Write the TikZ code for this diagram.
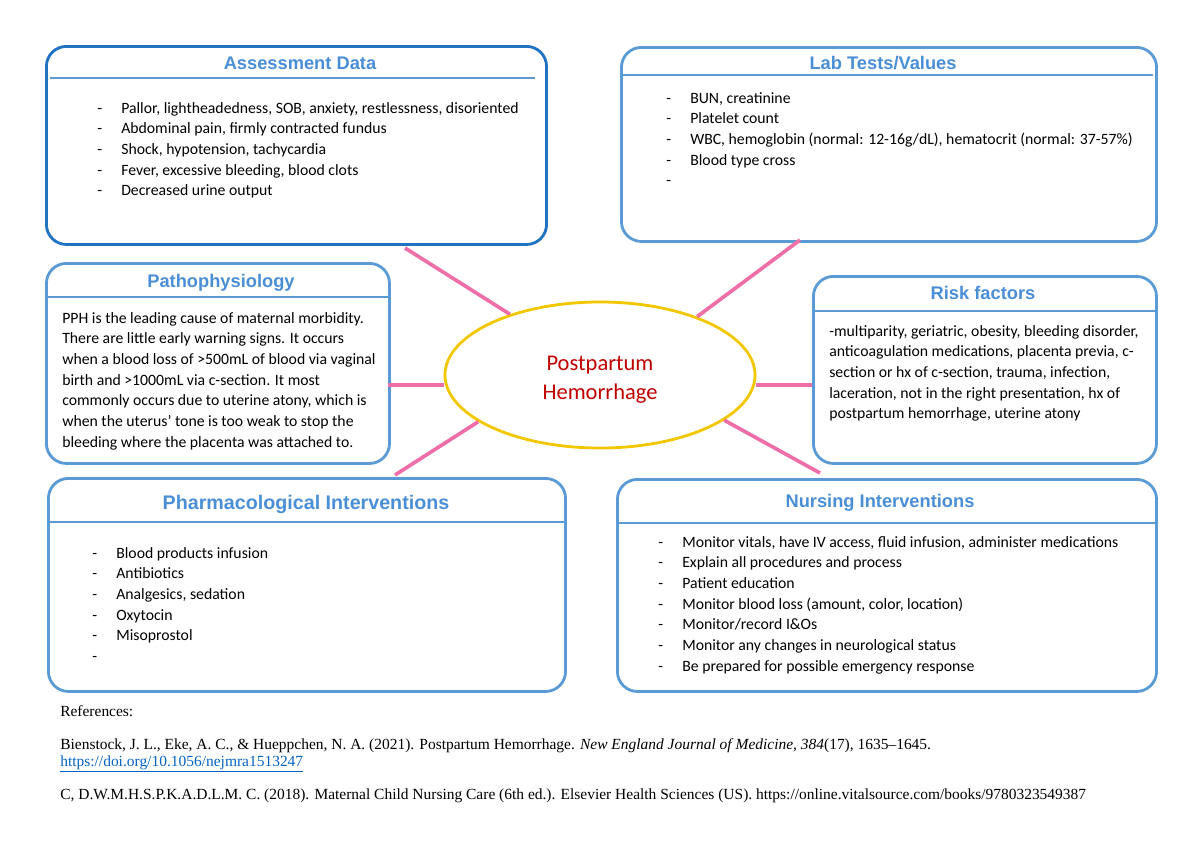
\documentclass[tikz,border=0pt]{standalone}
\usepackage{fontspec}
\setmainfont{Carlito}
\newfontfamily\headfont{Liberation Sans}
\newfontfamily\reffont{Liberation Serif}
\usepackage{xcolor}
\usetikzlibrary{shapes.geometric, positioning, calc}

\definecolor{boxblue}{HTML}{5B9BD5}
\definecolor{deepblue}{HTML}{1F73C2}
\definecolor{titleblue}{HTML}{4A8FD6}
\definecolor{spokepink}{HTML}{EE6FA8}
\definecolor{hubyellow}{HTML}{F2C700}
\definecolor{hubred}{HTML}{C00000}
\definecolor{linkblue}{HTML}{0563C1}

\newcommand{\itm}{\makebox[0.6cm][l]{-}}

\begin{document}
\begin{tikzpicture}[
  x=0.025cm, y=-0.025cm,
  panel/.style={draw=boxblue, line width=2pt, rounded corners=0.5cm, anchor=north west, inner sep=0pt},
  title/.style={font=\headfont\bfseries\fontsize{13}{15}\selectfont, text=titleblue, text height=1.6ex, text depth=0.3ex, inner sep=0pt},
  rule/.style={draw=boxblue, line width=1.4pt},
  body/.style={font=\fontsize{11.2}{14.7}\selectfont, align=left, anchor=north west, inner sep=0pt},
  spoke/.style={draw=spokepink, line width=2.6pt},
  hub/.style={ellipse, draw=hubyellow, line width=2pt, minimum width=7.75cm, minimum height=3.65cm, inner sep=0pt, align=center, text=hubred, font=\fontsize{16}{21}\selectfont},
  refs/.style={font=\reffont\fontsize{11}{13}\selectfont, anchor=base west, inner sep=0pt}
]
\useasboundingbox (0,0) rectangle (1200,849);

% panels
\node[panel, draw=deepblue, minimum width=12.5cm, minimum height=4.95cm] (assess) at (45,45) {};
\node[panel, minimum width=13.375cm, minimum height=4.85cm] (labs) at (620,46) {};
\node[panel, minimum width=8.575cm, minimum height=5cm] (patho) at (45,262) {};
\node[panel, minimum width=8.575cm, minimum height=4.675cm] (risk) at (812,275) {};
\node[panel, minimum width=12.925cm, minimum height=5.325cm] (pharm) at (47,477) {};
\node[panel, minimum width=13.475cm, minimum height=5.3cm] (nursing) at (616,478) {};

% titles and header rules
\node[title] (assessT) at (300,65) {Assessment Data};
\node[title] (labsT) at (883,65) {Lab Tests/Values};
\node[title] (pathoT) at (221,283) {Pathophysiology};
\node[title] (riskT) at (983,295) {Risk factors};
\node[title, font=\headfont\bfseries\fontsize{14}{16}\selectfont] (pharmT) at (306,505) {Pharmacological Interventions};
\node[title] (nursingT) at (880,503) {Nursing Interventions};
\draw[rule] (50,78) -- (535,78);
\draw[rule] (622,75) -- (1153,75);
\draw[rule] (45,297) -- (388,297);
\draw[rule] (812,311) -- (1155,311);
\draw[rule] (47,522) -- (564,522);
\draw[rule] (616,523) -- (1155,523);

% contents
\node[body] (assessB) at (97,102) {\itm Pallor, lightheadedness, SOB, anxiety, restlessness, disoriented\\
  \itm Abdominal pain, firmly contracted fundus\\
  \itm Shock, hypotension, tachycardia\\
  \itm Fever, excessive bleeding, blood clots\\
  \itm Decreased urine output};
\node[body] (labsB) at (666,92) {\itm BUN, creatinine\\
  \itm Platelet count\\
  \itm WBC, hemoglobin (normal: 12-16g/dL), hematocrit (normal: 37-57\%)\\
  \itm Blood type cross\\
  \itm};
\node[body] (pathoB) at (62,312) {PPH is the leading cause of maternal morbidity.\\
  There are little early warning signs. It occurs\\
  when a blood loss of >500mL of blood via vaginal\\
  birth and >1000mL via c-section. It most\\
  commonly occurs due to uterine atony, which is\\
  when the uterus’ tone is too weak to stop the\\
  bleeding where the placenta was attached to.};
\node[body] (riskB) at (829,325) {-multiparity, geriatric, obesity, bleeding disorder,\\
  anticoagulation medications, placenta previa, c-\\
  section or hx of c-section, trauma, infection,\\
  laceration, not in the right presentation, hx of\\
  postpartum hemorrhage, uterine atony};
\node[body] (pharmB) at (92,547) {\itm Blood products infusion\\
  \itm Antibiotics\\
  \itm Analgesics, sedation\\
  \itm Oxytocin\\
  \itm Misoprostol\\
  \itm};
\node[body] (nursingB) at (658,536) {\itm Monitor vitals, have IV access, fluid infusion, administer medications\\
  \itm Explain all procedures and process\\
  \itm Patient education\\
  \itm Monitor blood loss (amount, color, location)\\
  \itm Monitor/record I\&Os\\
  \itm Monitor any changes in neurological status\\
  \itm Be prepared for possible emergency response};

% centre
\node[hub] (hub) at (600,375) {\raisebox{-3pt}[\height][\depth]{\begin{tabular}{@{}c@{}}Postpartum\\Hemorrhage\end{tabular}}};

\coordinate (assessEnd) at (405,248);
\coordinate (labsEnd) at (800,240);
\coordinate (pathoEnd) at (388,385);
\coordinate (riskEnd) at (812,385);
\coordinate (pharmEnd) at (395,475);
\coordinate (nursingEnd) at (820,473);
\draw[spoke] (assessEnd) -- (hub.146);
\draw[spoke] (labsEnd) -- (hub.31);
\draw[spoke] (pathoEnd) -- (pathoEnd -| hub.west);
\draw[spoke] (riskEnd) -- (riskEnd -| hub.east);
\draw[spoke] (pharmEnd) -- (hub.201);
\draw[spoke] (nursingEnd) -- (hub.340);

% references
\node[refs] (refHead) at (60,716) {References:};
\node[refs] (ref1) at (60,749) {Bienstock, J. L., Eke, A. C., \& Hueppchen, N. A. (2021). Postpartum Hemorrhage. \emph{New England Journal of Medicine, 384}(17), 1635–1645.};
\node[refs, text=linkblue] (ref1doi) at (60,766) {\underline{https://doi.org/10.1056/nejmra1513247}};
\node[refs] (ref2) at (60,799) {C, D.W.M.H.S.P.K.A.D.L.M. C. (2018). Maternal Child Nursing Care (6th ed.). Elsevier Health Sciences (US). https://online.vitalsource.com/books/9780323549387};
\end{tikzpicture}
\end{document}
